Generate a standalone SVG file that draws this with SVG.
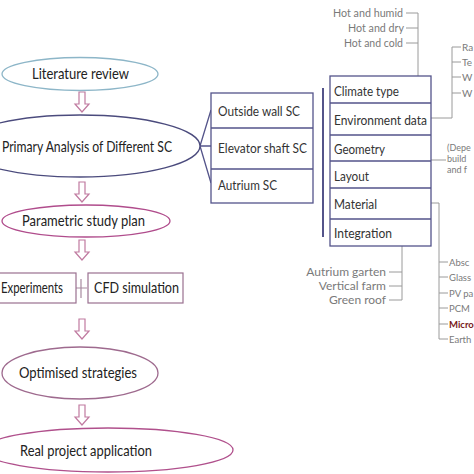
<svg xmlns="http://www.w3.org/2000/svg" width="474" height="474" viewBox="0 0 474 474">
<defs>
<style>
.t{font-family:Lato,"Liberation Sans",sans-serif;font-size:15px;fill:#222}
.s{font-family:Lato,"Liberation Sans",sans-serif;font-size:14px;fill:#333}
.g{font-family:Lato,"Liberation Sans",sans-serif;font-size:12px;fill:#7a7a7a}
.ge{font-family:Lato,"Liberation Sans",sans-serif;font-size:10px;fill:#7a7a7a}
.gm{font-family:Lato,"Liberation Sans",sans-serif;font-size:9.5px;fill:#7a7a7a}
.gn{font-family:Lato,"Liberation Sans",sans-serif;font-size:9px;fill:#7a7a7a}
.gl{stroke:#9a9a9a;stroke-width:1;fill:none}
.nv{stroke:#54548a;stroke-width:1.3;fill:#fff}
.arr{stroke:#c07aa0;stroke-width:1.2;fill:#fff}
</style>
<path id="ar" d="M-3,0 L3,0 L3,12 L7,12 L0,20 L-7,12 L-3,12 Z"/>
</defs>
<rect width="474" height="474" fill="#fff"/>

<g id="connectors">
<use href="#ar" class="arr" x="82" y="92"/>
<use href="#ar" class="arr" x="82" y="182"/>
<use href="#ar" class="arr" x="82" y="240"/>
<use href="#ar" class="arr" x="82" y="319"/>
<use href="#ar" class="arr" x="82" y="405"/>
<path d="M81,279 V298 M76,288 H87" stroke="#a88aa0" stroke-width="1.2" fill="none"/>
<path d="M200,146 L211,110 M200,146 L211,146 M200,146 L211,183" stroke="#54548a" stroke-width="1.3" fill="none"/>
<path d="M323,88 V237" stroke="#54548a" stroke-width="2" fill="none"/>
<path class="gl" d="M406,13 H418 M406,28 H418 M406,43 H418 M418,13 V76"/>
<path class="gl" d="M431,118 H452 V47 M452,47 H461 M452,62 H461 M452,77 H461 M452,93 H461"/>
<path class="gl" d="M431,160 H446"/>
<path class="gl" d="M431,203 H439 V339 M439,262 H448 M439,277 H448 M439,293 H448 M439,308 H448 M439,324 H448 M439,339 H448"/>
<path class="gl" d="M402,246 V300 M389,272 H402 M389,286 H402 M389,300 H402"/>
</g>

<g id="n-literature">
<ellipse cx="80" cy="74" rx="78" ry="16.5" fill="#fff" stroke="#8db6c8" stroke-width="1.3"/>
<text class="t" x="32" y="79" textLength="97" lengthAdjust="spacingAndGlyphs">Literature review</text>
</g>
<g id="n-primary">
<ellipse cx="80" cy="146" rx="120" ry="31" fill="#fff" stroke="#4b4b7d" stroke-width="1.3"/>
<text class="t" x="2" y="152" textLength="170" lengthAdjust="spacingAndGlyphs">Primary Analysis of Different SC</text>
</g>
<g id="n-parametric">
<ellipse cx="86" cy="221" rx="84" ry="16" fill="#fff" stroke="#b04c8c" stroke-width="1.3"/>
<text class="t" x="22" y="226" textLength="123" lengthAdjust="spacingAndGlyphs">Parametric study plan</text>
</g>
<g id="n-experiments">
<rect x="-5" y="273" width="81" height="30" fill="#fff" stroke="#9a7090" stroke-width="1.2"/>
<text class="t" x="1" y="293" textLength="62" lengthAdjust="spacingAndGlyphs">Experiments</text>
</g>
<g id="n-cfd">
<rect x="88" y="273" width="95" height="30" fill="#fff" stroke="#9a7090" stroke-width="1.2"/>
<text class="t" x="94" y="293" textLength="85" lengthAdjust="spacingAndGlyphs">CFD simulation</text>
</g>
<g id="n-optimised">
<ellipse cx="80" cy="373" rx="78" ry="26" fill="#fff" stroke="#9e6a8e" stroke-width="1.3"/>
<text class="t" x="19" y="378" textLength="118" lengthAdjust="spacingAndGlyphs">Optimised strategies</text>
</g>
<g id="n-real">
<ellipse cx="108" cy="450" rx="125" ry="22" fill="#fff" stroke="#b0508c" stroke-width="1.3"/>
<text class="t" x="20" y="456" textLength="132" lengthAdjust="spacingAndGlyphs">Real project application</text>
</g>

<g id="n-sc">
<rect class="nv" x="211" y="93" width="102" height="110"/>
<path d="M211,128 H313 M211,169 H313" stroke="#54548a" stroke-width="1.3"/>
<text class="s" x="218" y="116" textLength="82" lengthAdjust="spacingAndGlyphs">Outside wall  SC</text>
<text class="s" x="218" y="153" textLength="89" lengthAdjust="spacingAndGlyphs">Elevator shaft  SC</text>
<text class="s" x="218" y="190" textLength="59" lengthAdjust="spacingAndGlyphs">Autrium SC</text>
</g>

<g id="n-params">
<rect class="nv" x="330" y="76" width="101" height="170"/>
<path d="M330,103 H431 M330,135 H431 M330,161 H431 M330,188 H431 M330,219 H431" stroke="#54548a" stroke-width="1.3"/>
<text class="s" x="334" y="96" textLength="65" lengthAdjust="spacingAndGlyphs">Climate type</text>
<text class="s" x="334" y="125" textLength="93" lengthAdjust="spacingAndGlyphs">Environment data</text>
<text class="s" x="334" y="154" textLength="51" lengthAdjust="spacingAndGlyphs">Geometry</text>
<text class="s" x="334" y="181" textLength="35" lengthAdjust="spacingAndGlyphs">Layout</text>
<text class="s" x="334" y="209" textLength="43" lengthAdjust="spacingAndGlyphs">Material</text>
<text class="s" x="334" y="238" textLength="58" lengthAdjust="spacingAndGlyphs">Integration</text>
</g>

<g id="n-climate-list">
<text class="g" x="333" y="17" textLength="70" lengthAdjust="spacingAndGlyphs">Hot and humid</text>
<text class="g" x="348" y="32" textLength="56" lengthAdjust="spacingAndGlyphs">Hot and dry</text>
<text class="g" x="344" y="47" textLength="59" lengthAdjust="spacingAndGlyphs">Hot and cold</text>
</g>
<g id="n-env-list">
<text class="ge" x="462" y="51">Ra</text>
<text class="ge" x="462" y="66">Te</text>
<text class="ge" x="462" y="81">W</text>
<text class="ge" x="462" y="97">W</text>
</g>
<g id="n-geo-note">
<text class="gn" x="447" y="151">(Depe</text>
<text class="gn" x="447" y="162">build</text>
<text class="gn" x="447" y="173">and f</text>
</g>
<g id="n-material-list">
<text class="gm" x="449" y="265.5">Absc</text>
<text class="gm" x="449" y="280.5">Glass</text>
<text class="gm" x="449" y="296.5">PV pa</text>
<text class="gm" x="449" y="311.5">PCM</text>
<text class="gm" x="449" y="327.5" style="fill:#7a1a1a;font-weight:bold">Micro</text>
<text class="gm" x="449" y="342.5">Earth</text>
</g>
<g id="n-integration-list">
<text class="g" x="386" y="276" text-anchor="end">Autrium garten</text>
<text class="g" x="386" y="290" text-anchor="end">Vertical farm</text>
<text class="g" x="386" y="304" text-anchor="end">Green roof</text>
</g>
</svg>
